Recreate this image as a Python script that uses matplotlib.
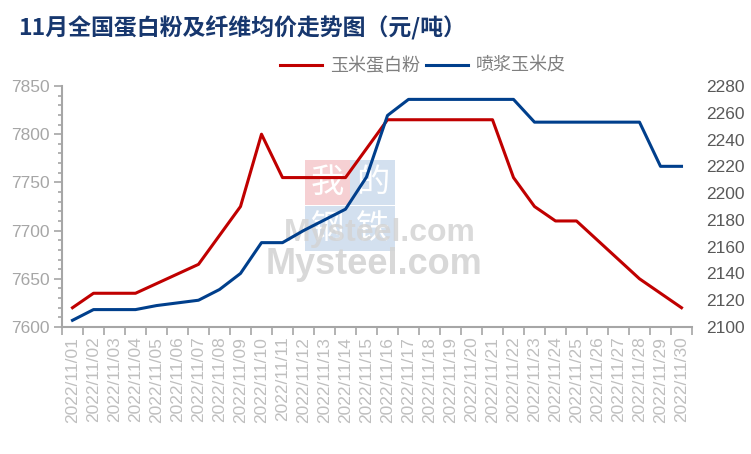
import matplotlib
matplotlib.use("Agg")
import matplotlib.pyplot as plt
from matplotlib.ticker import MultipleLocator
from matplotlib.patches import Rectangle

plt.rcParams['font.family'] = ['Noto Sans CJK SC', 'DejaVu Sans']

dates = [f"2022/11/{d:02d}" for d in range(1, 31)]
protein = [7620, 7635, 7635, 7635, 7645, 7655, 7665, 7695, 7725, 7800,
           7755, 7755, 7755, 7755, 7785, 7815, 7815, 7815, 7815, 7815,
           7815, 7755, 7725, 7710, 7710, 7690, 7670, 7650, 7635, 7620]
husk = [2105, 2113, 2113, 2113, 2116, 2118, 2120, 2128, 2140, 2163,
        2163, 2172, 2180, 2188, 2212, 2258, 2270, 2270, 2270, 2270,
        2270, 2270, 2253, 2253, 2253, 2253, 2253, 2253, 2220, 2220]
series_names = ["玉米蛋白粉", "喷浆玉米皮"]
title = "11月全国蛋白粉及纤维均价走势图（元/吨）"

red = "#C00000"
blue = "#003F8C"
grey = "#A6A6A6"
W, H = 751, 454

fig = plt.figure(figsize=(7.51, 4.54), dpi=100)

# faint logo watermark (background)
for (x0, y0, c, ch) in [(305, 160, "#F6D0D3", "我"), (350, 160, "#D3E0EF", "的"),
                        (305, 206, "#D3E0EF", "钢"), (350, 206, "#D3E0EF", "铁")]:
    fig.patches.append(Rectangle((x0 / W, 1 - (y0 + 45) / H), 45 / W, 45 / H,
                                 transform=fig.transFigure, facecolor=c,
                                 edgecolor='none', zorder=0))
    fig.text((x0 + 22.5) / W, 1 - (y0 + 22.5) / H, ch, fontsize=24, color="white",
             ha='center', va='center', zorder=0.2)
fig.text(380 / W, 1 - 233 / H, "Mysteel.com", fontsize=23, color="#D4D4D4", alpha=0.85,
         ha='center', va='center', family=['Liberation Sans'], fontweight='bold', zorder=0.5)
fig.text(374 / W, 1 - 265 / H, "Mysteel.com", fontsize=26, color="#D4D4D4", alpha=0.9,
         ha='center', va='center', family=['Liberation Sans'], fontweight='bold', zorder=0.5)

ax = fig.add_axes([62 / W, 1 - 327 / H, 630 / W, 241 / H])
ax.patch.set_alpha(0)
ax2 = ax.twinx()
ax2.patch.set_alpha(0)
ax.set_zorder(1)
ax2.set_zorder(2)

x = list(range(len(dates)))
l1, = ax.plot(x, protein, color=red, lw=2.2, solid_joinstyle='round')
l2, = ax2.plot(x, husk, color=blue, lw=2.2, solid_joinstyle='round')

ax.set_xlim(-0.5, len(dates) - 0.5)
ax.set_ylim(7600, 7850)
ax2.set_ylim(2100, 2280)
ax.yaxis.set_major_locator(MultipleLocator(50))
ax.yaxis.set_minor_locator(MultipleLocator(10))
ax2.yaxis.set_major_locator(MultipleLocator(20))

ax.set_xticks(x)
ax.set_xticklabels(dates, rotation=90, color="#BFBFBF", fontsize=12.5, family=['Liberation Sans'])
ax.set_xticks([i - 0.5 for i in range(len(dates) + 1)], minor=True)
ax.tick_params(axis='x', which='major', length=0, pad=7)
ax.tick_params(axis='x', which='minor', length=6, color=grey, width=1.2)

for t in ax.get_yticklabels():
    t.set_family(['Liberation Sans'])
ax.tick_params(axis='y', which='major', length=6, color=grey, labelcolor=grey, labelsize=12.5, width=1.2, pad=3)
ax.tick_params(axis='y', which='minor', length=3, color=grey, width=1.2)
ax2.tick_params(axis='y', which='major', length=0, labelcolor="#595959", labelsize=12.5, pad=10)
for t in ax2.get_yticklabels():
    t.set_family(['Liberation Sans'])

for a in (ax, ax2):
    for s in ('top', 'right', 'left', 'bottom'):
        a.spines[s].set_visible(False)
for s in ('left', 'bottom'):
    ax.spines[s].set_visible(True)
    ax.spines[s].set_color(grey)
    ax.spines[s].set_linewidth(1.5)

fig.text(18 / W, 1 - 28 / H, title, fontsize=16.5, fontweight='bold',
         color="#17376E", ha='left', va='center')

fig.legend([l1, l2], series_names, loc='center', bbox_to_anchor=(423 / W, 1 - 66 / H),
           ncol=2, frameon=False, fontsize=13, labelcolor="#7F7F7F",
           handlelength=2.3, handletextpad=0.45, columnspacing=0.35)

fig.savefig("out.png", dpi=100)
